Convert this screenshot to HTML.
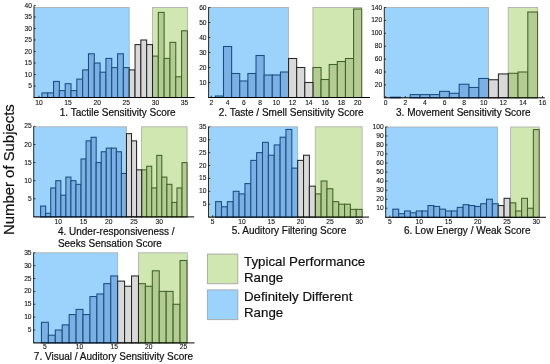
<!DOCTYPE html><html><head><meta charset="utf-8"><title>Figure</title><style>html,body{margin:0;padding:0;background:#fff}svg{display:block}text{stroke:#111;stroke-width:.2px}.tk text{stroke-width:.1px}</style></head><body><svg width="550" height="364" viewBox="0 0 550 364" font-family="'Liberation Sans', Arial, sans-serif">
<rect width="550" height="364" fill="#fff"/>
<g><rect x="34" y="7.4" width="95.21" height="90.1" fill="#9CD3FD" stroke="#ABABAB" stroke-width="0.8"/><rect x="152.49" y="7.4" width="34.92" height="90.1" fill="#D0E7B2" stroke="#ABABAB" stroke-width="0.8"/><path d="M39 97.5v-1.8M68.1 97.5v-1.8M97.2 97.5v-1.8M126.3 97.5v-1.8M155.4 97.5v-1.8M184.5 97.5v-1.8M34 86h1.8M34 74.5h1.8M34 63h1.8M34 51.5h1.8M34 40h1.8M34 28.5h1.8M34 17h1.8M34 5.5h1.8" stroke="#000" stroke-width="0.7" fill="none"/><rect x="41.91" y="92.9" width="5.82" height="4.6" fill="#7AB0E3" stroke="#1B4C80" stroke-width="1.05"/><rect x="47.73" y="92.9" width="5.82" height="4.6" fill="#7AB0E3" stroke="#1B4C80" stroke-width="1.05"/><rect x="53.55" y="81.4" width="5.82" height="16.1" fill="#7AB0E3" stroke="#1B4C80" stroke-width="1.05"/><rect x="59.37" y="90.6" width="5.82" height="6.9" fill="#7AB0E3" stroke="#1B4C80" stroke-width="1.05"/><rect x="65.19" y="83.7" width="5.82" height="13.8" fill="#7AB0E3" stroke="#1B4C80" stroke-width="1.05"/><rect x="71.01" y="90.6" width="5.82" height="6.9" fill="#7AB0E3" stroke="#1B4C80" stroke-width="1.05"/><rect x="76.83" y="79.1" width="5.82" height="18.4" fill="#7AB0E3" stroke="#1B4C80" stroke-width="1.05"/><rect x="82.65" y="69.9" width="5.82" height="27.6" fill="#7AB0E3" stroke="#1B4C80" stroke-width="1.05"/><rect x="88.47" y="53.8" width="5.82" height="43.7" fill="#7AB0E3" stroke="#1B4C80" stroke-width="1.05"/><rect x="94.29" y="63" width="5.82" height="34.5" fill="#7AB0E3" stroke="#1B4C80" stroke-width="1.05"/><rect x="100.11" y="72.2" width="5.82" height="25.3" fill="#7AB0E3" stroke="#1B4C80" stroke-width="1.05"/><rect x="105.93" y="58.4" width="5.82" height="39.1" fill="#7AB0E3" stroke="#1B4C80" stroke-width="1.05"/><rect x="111.75" y="67.6" width="5.82" height="29.9" fill="#7AB0E3" stroke="#1B4C80" stroke-width="1.05"/><rect x="117.57" y="53.8" width="5.82" height="43.7" fill="#7AB0E3" stroke="#1B4C80" stroke-width="1.05"/><rect x="123.39" y="67.6" width="5.82" height="29.9" fill="#7AB0E3" stroke="#1B4C80" stroke-width="1.05"/><rect x="152.49" y="56.1" width="5.82" height="41.4" fill="#B2CC94" stroke="#416226" stroke-width="1.05"/><rect x="158.31" y="12.4" width="5.82" height="85.1" fill="#B2CC94" stroke="#416226" stroke-width="1.05"/><rect x="164.13" y="58.4" width="5.82" height="39.1" fill="#B2CC94" stroke="#416226" stroke-width="1.05"/><rect x="169.95" y="42.3" width="5.82" height="55.2" fill="#B2CC94" stroke="#416226" stroke-width="1.05"/><rect x="175.77" y="76.8" width="5.82" height="20.7" fill="#B2CC94" stroke="#416226" stroke-width="1.05"/><rect x="181.59" y="30.8" width="5.82" height="66.7" fill="#B2CC94" stroke="#416226" stroke-width="1.05"/><rect x="129.21" y="69.9" width="5.82" height="27.6" fill="#D9D9D9" stroke="#262626" stroke-width="1.05"/><rect x="135.03" y="44.6" width="5.82" height="52.9" fill="#D9D9D9" stroke="#262626" stroke-width="1.05"/><rect x="140.85" y="40" width="5.82" height="57.5" fill="#D9D9D9" stroke="#262626" stroke-width="1.05"/><rect x="146.67" y="44.6" width="5.82" height="52.9" fill="#D9D9D9" stroke="#262626" stroke-width="1.05"/><path d="M34 5.5V97.5" fill="none" stroke="#000" stroke-width="0.75"/><path d="M33.65 97.5H194.7" fill="none" stroke="#000" stroke-width="1"/><g class="tk"><text x="39" y="104.7" font-size="6.7" text-anchor="middle" fill="#111">10</text><text x="68.1" y="104.7" font-size="6.7" text-anchor="middle" fill="#111">15</text><text x="97.2" y="104.7" font-size="6.7" text-anchor="middle" fill="#111">20</text><text x="126.3" y="104.7" font-size="6.7" text-anchor="middle" fill="#111">25</text><text x="155.4" y="104.7" font-size="6.7" text-anchor="middle" fill="#111">30</text><text x="184.5" y="104.7" font-size="6.7" text-anchor="middle" fill="#111">35</text><text x="32" y="88" font-size="6.7" text-anchor="end" fill="#111">5</text><text x="32" y="76.5" font-size="6.7" text-anchor="end" fill="#111">10</text><text x="32" y="65" font-size="6.7" text-anchor="end" fill="#111">15</text><text x="32" y="53.5" font-size="6.7" text-anchor="end" fill="#111">20</text><text x="32" y="42" font-size="6.7" text-anchor="end" fill="#111">25</text><text x="32" y="30.5" font-size="6.7" text-anchor="end" fill="#111">30</text><text x="32" y="19" font-size="6.7" text-anchor="end" fill="#111">35</text><text x="32" y="7.5" font-size="6.7" text-anchor="end" fill="#111">40</text></g><text x="117.7" y="115.8" font-size="10" text-anchor="middle" fill="#111">1. Tactile Sensitivity Score</text></g>
<g><rect x="208.6" y="7.4" width="79.94" height="90.1" fill="#9CD3FD" stroke="#ABABAB" stroke-width="0.8"/><rect x="312.93" y="7.4" width="48.78" height="90.1" fill="#D0E7B2" stroke="#ABABAB" stroke-width="0.8"/><path d="M211.3 97.5v-1.8M227.56 97.5v-1.8M243.82 97.5v-1.8M260.08 97.5v-1.8M276.34 97.5v-1.8M292.6 97.5v-1.8M308.86 97.5v-1.8M325.12 97.5v-1.8M341.38 97.5v-1.8M357.64 97.5v-1.8M208.6 82.5h1.8M208.6 67.5h1.8M208.6 52.5h1.8M208.6 37.5h1.8M208.6 22.5h1.8M208.6 7.5h1.8" stroke="#000" stroke-width="0.7" fill="none"/><rect x="215.37" y="96" width="8.13" height="1.5" fill="#7AB0E3" stroke="#1B4C80" stroke-width="1.05"/><rect x="223.5" y="46.5" width="8.13" height="51" fill="#7AB0E3" stroke="#1B4C80" stroke-width="1.05"/><rect x="231.62" y="73.5" width="8.13" height="24" fill="#7AB0E3" stroke="#1B4C80" stroke-width="1.05"/><rect x="239.76" y="81" width="8.13" height="16.5" fill="#7AB0E3" stroke="#1B4C80" stroke-width="1.05"/><rect x="247.89" y="73.5" width="8.13" height="24" fill="#7AB0E3" stroke="#1B4C80" stroke-width="1.05"/><rect x="256.01" y="55.5" width="8.13" height="42" fill="#7AB0E3" stroke="#1B4C80" stroke-width="1.05"/><rect x="264.15" y="75" width="8.13" height="22.5" fill="#7AB0E3" stroke="#1B4C80" stroke-width="1.05"/><rect x="272.28" y="75" width="8.13" height="22.5" fill="#7AB0E3" stroke="#1B4C80" stroke-width="1.05"/><rect x="280.41" y="72" width="8.13" height="25.5" fill="#7AB0E3" stroke="#1B4C80" stroke-width="1.05"/><rect x="312.93" y="67.5" width="8.13" height="30" fill="#B2CC94" stroke="#416226" stroke-width="1.05"/><rect x="321.06" y="79.5" width="8.13" height="18" fill="#B2CC94" stroke="#416226" stroke-width="1.05"/><rect x="329.19" y="64.5" width="8.13" height="33" fill="#B2CC94" stroke="#416226" stroke-width="1.05"/><rect x="337.32" y="61.5" width="8.13" height="36" fill="#B2CC94" stroke="#416226" stroke-width="1.05"/><rect x="345.45" y="58.5" width="8.13" height="39" fill="#B2CC94" stroke="#416226" stroke-width="1.05"/><rect x="353.58" y="9" width="8.13" height="88.5" fill="#B2CC94" stroke="#416226" stroke-width="1.05"/><rect x="288.54" y="58.5" width="8.13" height="39" fill="#D9D9D9" stroke="#262626" stroke-width="1.05"/><rect x="296.67" y="67.5" width="8.13" height="30" fill="#D9D9D9" stroke="#262626" stroke-width="1.05"/><rect x="304.8" y="82.5" width="8.13" height="15" fill="#D9D9D9" stroke="#262626" stroke-width="1.05"/><path d="M208.6 7.4V97.5" fill="none" stroke="#000" stroke-width="0.75"/><path d="M208.25 97.5H370" fill="none" stroke="#000" stroke-width="1"/><g class="tk"><text x="211.3" y="104.7" font-size="6.7" text-anchor="middle" fill="#111">2</text><text x="227.56" y="104.7" font-size="6.7" text-anchor="middle" fill="#111">4</text><text x="243.82" y="104.7" font-size="6.7" text-anchor="middle" fill="#111">6</text><text x="260.08" y="104.7" font-size="6.7" text-anchor="middle" fill="#111">8</text><text x="276.34" y="104.7" font-size="6.7" text-anchor="middle" fill="#111">10</text><text x="292.6" y="104.7" font-size="6.7" text-anchor="middle" fill="#111">12</text><text x="308.86" y="104.7" font-size="6.7" text-anchor="middle" fill="#111">14</text><text x="325.12" y="104.7" font-size="6.7" text-anchor="middle" fill="#111">16</text><text x="341.38" y="104.7" font-size="6.7" text-anchor="middle" fill="#111">18</text><text x="357.64" y="104.7" font-size="6.7" text-anchor="middle" fill="#111">20</text><text x="206.6" y="84.5" font-size="6.7" text-anchor="end" fill="#111">10</text><text x="206.6" y="69.5" font-size="6.7" text-anchor="end" fill="#111">20</text><text x="206.6" y="54.5" font-size="6.7" text-anchor="end" fill="#111">30</text><text x="206.6" y="39.5" font-size="6.7" text-anchor="end" fill="#111">40</text><text x="206.6" y="24.5" font-size="6.7" text-anchor="end" fill="#111">50</text><text x="206.6" y="9.5" font-size="6.7" text-anchor="end" fill="#111">60</text></g><text x="291.2" y="115.7" font-size="10" text-anchor="middle" fill="#111">2. Taste / Smell Sensitivity Score</text></g>
<g><rect x="384.3" y="7.4" width="104.3" height="90.4" fill="#9CD3FD" stroke="#ABABAB" stroke-width="0.8"/><rect x="508.2" y="7.4" width="29.4" height="90.4" fill="#D0E7B2" stroke="#ABABAB" stroke-width="0.8"/><path d="M385.7 97.8v-1.8M405.3 97.8v-1.8M424.9 97.8v-1.8M444.5 97.8v-1.8M464.1 97.8v-1.8M483.7 97.8v-1.8M503.3 97.8v-1.8M522.9 97.8v-1.8M542.5 97.8v-1.8M384.3 84.9h1.8M384.3 72h1.8M384.3 59.1h1.8M384.3 46.2h1.8M384.3 33.3h1.8M384.3 20.4h1.8M384.3 7.5h1.8" stroke="#000" stroke-width="0.7" fill="none"/><rect x="390.6" y="97.16" width="9.8" height="0.64" fill="#7AB0E3" stroke="#1B4C80" stroke-width="1.05"/><rect x="410.2" y="94.58" width="9.8" height="3.22" fill="#7AB0E3" stroke="#1B4C80" stroke-width="1.05"/><rect x="420" y="94.58" width="9.8" height="3.22" fill="#7AB0E3" stroke="#1B4C80" stroke-width="1.05"/><rect x="429.8" y="94.58" width="9.8" height="3.22" fill="#7AB0E3" stroke="#1B4C80" stroke-width="1.05"/><rect x="439.6" y="91.35" width="9.8" height="6.45" fill="#7AB0E3" stroke="#1B4C80" stroke-width="1.05"/><rect x="449.4" y="93.28" width="9.8" height="4.52" fill="#7AB0E3" stroke="#1B4C80" stroke-width="1.05"/><rect x="459.2" y="84.25" width="9.8" height="13.55" fill="#7AB0E3" stroke="#1B4C80" stroke-width="1.05"/><rect x="469" y="87.48" width="9.8" height="10.32" fill="#7AB0E3" stroke="#1B4C80" stroke-width="1.05"/><rect x="478.8" y="78.45" width="9.8" height="19.35" fill="#7AB0E3" stroke="#1B4C80" stroke-width="1.05"/><rect x="508.2" y="73.29" width="9.8" height="24.51" fill="#B2CC94" stroke="#416226" stroke-width="1.05"/><rect x="518" y="72" width="9.8" height="25.8" fill="#B2CC94" stroke="#416226" stroke-width="1.05"/><rect x="527.8" y="12.02" width="9.8" height="85.78" fill="#B2CC94" stroke="#416226" stroke-width="1.05"/><rect x="488.6" y="79.74" width="9.8" height="18.06" fill="#D9D9D9" stroke="#262626" stroke-width="1.05"/><rect x="498.4" y="73.94" width="9.8" height="23.86" fill="#D9D9D9" stroke="#262626" stroke-width="1.05"/><path d="M384.3 7.4V97.8" fill="none" stroke="#000" stroke-width="0.75"/><path d="M383.95 97.8H544.8" fill="none" stroke="#000" stroke-width="1"/><g class="tk"><text x="385.7" y="105" font-size="6.7" text-anchor="middle" fill="#111">0</text><text x="405.3" y="105" font-size="6.7" text-anchor="middle" fill="#111">2</text><text x="424.9" y="105" font-size="6.7" text-anchor="middle" fill="#111">4</text><text x="444.5" y="105" font-size="6.7" text-anchor="middle" fill="#111">6</text><text x="464.1" y="105" font-size="6.7" text-anchor="middle" fill="#111">8</text><text x="483.7" y="105" font-size="6.7" text-anchor="middle" fill="#111">10</text><text x="503.3" y="105" font-size="6.7" text-anchor="middle" fill="#111">12</text><text x="522.9" y="105" font-size="6.7" text-anchor="middle" fill="#111">14</text><text x="542.5" y="105" font-size="6.7" text-anchor="middle" fill="#111">16</text><text x="382.3" y="86.9" font-size="6.7" text-anchor="end" fill="#111">20</text><text x="382.3" y="74" font-size="6.7" text-anchor="end" fill="#111">40</text><text x="382.3" y="61.1" font-size="6.7" text-anchor="end" fill="#111">60</text><text x="382.3" y="48.2" font-size="6.7" text-anchor="end" fill="#111">80</text><text x="382.3" y="35.3" font-size="6.7" text-anchor="end" fill="#111">100</text><text x="382.3" y="22.4" font-size="6.7" text-anchor="end" fill="#111">120</text><text x="382.3" y="9.5" font-size="6.7" text-anchor="end" fill="#111">140</text></g><text x="463.3" y="115.6" font-size="10" text-anchor="middle" fill="#111">3. Movement Sensitivity Score</text></g>
<g><rect x="33.7" y="126.8" width="92.77" height="90.1" fill="#9CD3FD" stroke="#ABABAB" stroke-width="0.8"/><rect x="141.62" y="126.8" width="45.45" height="90.1" fill="#D0E7B2" stroke="#ABABAB" stroke-width="0.8"/><path d="M58.3 216.9v-1.8M83.55 216.9v-1.8M108.8 216.9v-1.8M134.05 216.9v-1.8M159.3 216.9v-1.8M33.7 198.8h1.8M33.7 180.7h1.8M33.7 162.6h1.8M33.7 144.5h1.8M33.7 126.4h1.8" stroke="#000" stroke-width="0.7" fill="none"/><rect x="40.62" y="206.04" width="5.05" height="10.86" fill="#7AB0E3" stroke="#1B4C80" stroke-width="1.05"/><rect x="45.67" y="213.28" width="5.05" height="3.62" fill="#7AB0E3" stroke="#1B4C80" stroke-width="1.05"/><rect x="50.72" y="187.94" width="5.05" height="28.96" fill="#7AB0E3" stroke="#1B4C80" stroke-width="1.05"/><rect x="55.77" y="180.7" width="5.05" height="36.2" fill="#7AB0E3" stroke="#1B4C80" stroke-width="1.05"/><rect x="60.82" y="195.18" width="5.05" height="21.72" fill="#7AB0E3" stroke="#1B4C80" stroke-width="1.05"/><rect x="65.88" y="177.08" width="5.05" height="39.82" fill="#7AB0E3" stroke="#1B4C80" stroke-width="1.05"/><rect x="70.92" y="180.7" width="5.05" height="36.2" fill="#7AB0E3" stroke="#1B4C80" stroke-width="1.05"/><rect x="75.97" y="184.32" width="5.05" height="32.58" fill="#7AB0E3" stroke="#1B4C80" stroke-width="1.05"/><rect x="81.02" y="158.98" width="5.05" height="57.92" fill="#7AB0E3" stroke="#1B4C80" stroke-width="1.05"/><rect x="86.07" y="140.88" width="5.05" height="76.02" fill="#7AB0E3" stroke="#1B4C80" stroke-width="1.05"/><rect x="91.12" y="137.26" width="5.05" height="79.64" fill="#7AB0E3" stroke="#1B4C80" stroke-width="1.05"/><rect x="96.17" y="162.6" width="5.05" height="54.3" fill="#7AB0E3" stroke="#1B4C80" stroke-width="1.05"/><rect x="101.22" y="151.74" width="5.05" height="65.16" fill="#7AB0E3" stroke="#1B4C80" stroke-width="1.05"/><rect x="106.28" y="148.12" width="5.05" height="68.78" fill="#7AB0E3" stroke="#1B4C80" stroke-width="1.05"/><rect x="111.32" y="148.12" width="5.05" height="68.78" fill="#7AB0E3" stroke="#1B4C80" stroke-width="1.05"/><rect x="116.38" y="151.74" width="5.05" height="65.16" fill="#7AB0E3" stroke="#1B4C80" stroke-width="1.05"/><rect x="121.42" y="173.46" width="5.05" height="43.44" fill="#7AB0E3" stroke="#1B4C80" stroke-width="1.05"/><rect x="141.62" y="169.84" width="5.05" height="47.06" fill="#B2CC94" stroke="#416226" stroke-width="1.05"/><rect x="146.68" y="166.22" width="5.05" height="50.68" fill="#B2CC94" stroke="#416226" stroke-width="1.05"/><rect x="151.72" y="187.94" width="5.05" height="28.96" fill="#B2CC94" stroke="#416226" stroke-width="1.05"/><rect x="156.77" y="155.36" width="5.05" height="61.54" fill="#B2CC94" stroke="#416226" stroke-width="1.05"/><rect x="161.82" y="177.08" width="5.05" height="39.82" fill="#B2CC94" stroke="#416226" stroke-width="1.05"/><rect x="166.88" y="184.32" width="5.05" height="32.58" fill="#B2CC94" stroke="#416226" stroke-width="1.05"/><rect x="171.93" y="202.42" width="5.05" height="14.48" fill="#B2CC94" stroke="#416226" stroke-width="1.05"/><rect x="176.97" y="187.94" width="5.05" height="28.96" fill="#B2CC94" stroke="#416226" stroke-width="1.05"/><rect x="182.02" y="162.6" width="5.05" height="54.3" fill="#B2CC94" stroke="#416226" stroke-width="1.05"/><rect x="126.47" y="133.64" width="5.05" height="83.26" fill="#D9D9D9" stroke="#262626" stroke-width="1.05"/><rect x="131.52" y="140.88" width="5.05" height="76.02" fill="#D9D9D9" stroke="#262626" stroke-width="1.05"/><rect x="136.57" y="169.84" width="5.05" height="47.06" fill="#D9D9D9" stroke="#262626" stroke-width="1.05"/><path d="M33.7 126.5V216.9" fill="none" stroke="#000" stroke-width="0.75"/><path d="M33.35 216.9H194.2" fill="none" stroke="#000" stroke-width="1"/><g class="tk"><text x="58.3" y="224.1" font-size="6.7" text-anchor="middle" fill="#111">10</text><text x="83.55" y="224.1" font-size="6.7" text-anchor="middle" fill="#111">15</text><text x="108.8" y="224.1" font-size="6.7" text-anchor="middle" fill="#111">20</text><text x="134.05" y="224.1" font-size="6.7" text-anchor="middle" fill="#111">25</text><text x="159.3" y="224.1" font-size="6.7" text-anchor="middle" fill="#111">30</text><text x="31.7" y="200.8" font-size="6.7" text-anchor="end" fill="#111">5</text><text x="31.7" y="182.7" font-size="6.7" text-anchor="end" fill="#111">10</text><text x="31.7" y="164.6" font-size="6.7" text-anchor="end" fill="#111">15</text><text x="31.7" y="146.5" font-size="6.7" text-anchor="end" fill="#111">20</text><text x="31.7" y="128.4" font-size="6.7" text-anchor="end" fill="#111">25</text></g><text x="57.9" y="235.1" font-size="10" fill="#111">4. Under-responsiveness /</text><text x="57.9" y="246.7" font-size="10" fill="#111">Seeks Sensation Score</text></g>
<g><rect x="208.5" y="126.8" width="89.17" height="90.3" fill="#9CD3FD" stroke="#ABABAB" stroke-width="0.8"/><rect x="315.25" y="126.8" width="46.88" height="90.3" fill="#D0E7B2" stroke="#ABABAB" stroke-width="0.8"/><path d="M212.7 217.1v-1.8M242 217.1v-1.8M271.3 217.1v-1.8M300.6 217.1v-1.8M329.9 217.1v-1.8M359.2 217.1v-1.8M208.5 204.21h1.8M208.5 191.32h1.8M208.5 178.43h1.8M208.5 165.54h1.8M208.5 152.65h1.8M208.5 139.76h1.8M208.5 126.87h1.8" stroke="#000" stroke-width="0.7" fill="none"/><rect x="215.63" y="201.63" width="5.86" height="15.47" fill="#7AB0E3" stroke="#1B4C80" stroke-width="1.05"/><rect x="221.49" y="206.79" width="5.86" height="10.31" fill="#7AB0E3" stroke="#1B4C80" stroke-width="1.05"/><rect x="227.35" y="201.63" width="5.86" height="15.47" fill="#7AB0E3" stroke="#1B4C80" stroke-width="1.05"/><rect x="233.21" y="191.32" width="5.86" height="25.78" fill="#7AB0E3" stroke="#1B4C80" stroke-width="1.05"/><rect x="239.07" y="193.9" width="5.86" height="23.2" fill="#7AB0E3" stroke="#1B4C80" stroke-width="1.05"/><rect x="244.93" y="183.59" width="5.86" height="33.51" fill="#7AB0E3" stroke="#1B4C80" stroke-width="1.05"/><rect x="250.79" y="160.38" width="5.86" height="56.72" fill="#7AB0E3" stroke="#1B4C80" stroke-width="1.05"/><rect x="256.65" y="152.65" width="5.86" height="64.45" fill="#7AB0E3" stroke="#1B4C80" stroke-width="1.05"/><rect x="262.51" y="142.34" width="5.86" height="74.76" fill="#7AB0E3" stroke="#1B4C80" stroke-width="1.05"/><rect x="268.37" y="155.23" width="5.86" height="61.87" fill="#7AB0E3" stroke="#1B4C80" stroke-width="1.05"/><rect x="274.23" y="144.92" width="5.86" height="72.18" fill="#7AB0E3" stroke="#1B4C80" stroke-width="1.05"/><rect x="280.09" y="137.18" width="5.86" height="79.92" fill="#7AB0E3" stroke="#1B4C80" stroke-width="1.05"/><rect x="285.95" y="129.45" width="5.86" height="87.65" fill="#7AB0E3" stroke="#1B4C80" stroke-width="1.05"/><rect x="291.81" y="168.12" width="5.86" height="48.98" fill="#7AB0E3" stroke="#1B4C80" stroke-width="1.05"/><rect x="315.25" y="193.9" width="5.86" height="23.2" fill="#B2CC94" stroke="#416226" stroke-width="1.05"/><rect x="321.11" y="181.01" width="5.86" height="36.09" fill="#B2CC94" stroke="#416226" stroke-width="1.05"/><rect x="326.97" y="188.74" width="5.86" height="28.36" fill="#B2CC94" stroke="#416226" stroke-width="1.05"/><rect x="332.83" y="201.63" width="5.86" height="15.47" fill="#B2CC94" stroke="#416226" stroke-width="1.05"/><rect x="338.69" y="204.21" width="5.86" height="12.89" fill="#B2CC94" stroke="#416226" stroke-width="1.05"/><rect x="344.55" y="204.21" width="5.86" height="12.89" fill="#B2CC94" stroke="#416226" stroke-width="1.05"/><rect x="350.41" y="209.37" width="5.86" height="7.73" fill="#B2CC94" stroke="#416226" stroke-width="1.05"/><rect x="356.27" y="209.37" width="5.86" height="7.73" fill="#B2CC94" stroke="#416226" stroke-width="1.05"/><rect x="297.67" y="160.38" width="5.86" height="56.72" fill="#D9D9D9" stroke="#262626" stroke-width="1.05"/><rect x="303.53" y="155.23" width="5.86" height="61.87" fill="#D9D9D9" stroke="#262626" stroke-width="1.05"/><rect x="309.39" y="186.16" width="5.86" height="30.94" fill="#D9D9D9" stroke="#262626" stroke-width="1.05"/><path d="M208.5 126.9V217.1" fill="none" stroke="#000" stroke-width="0.75"/><path d="M208.15 217.1H369" fill="none" stroke="#000" stroke-width="1"/><g class="tk"><text x="212.7" y="224" font-size="6.7" text-anchor="middle" fill="#111">5</text><text x="242" y="224" font-size="6.7" text-anchor="middle" fill="#111">10</text><text x="271.3" y="224" font-size="6.7" text-anchor="middle" fill="#111">15</text><text x="300.6" y="224" font-size="6.7" text-anchor="middle" fill="#111">20</text><text x="329.9" y="224" font-size="6.7" text-anchor="middle" fill="#111">25</text><text x="359.2" y="224" font-size="6.7" text-anchor="middle" fill="#111">30</text><text x="206.5" y="206.21" font-size="6.7" text-anchor="end" fill="#111">5</text><text x="206.5" y="193.32" font-size="6.7" text-anchor="end" fill="#111">10</text><text x="206.5" y="180.43" font-size="6.7" text-anchor="end" fill="#111">15</text><text x="206.5" y="167.54" font-size="6.7" text-anchor="end" fill="#111">20</text><text x="206.5" y="154.65" font-size="6.7" text-anchor="end" fill="#111">25</text><text x="206.5" y="141.76" font-size="6.7" text-anchor="end" fill="#111">30</text><text x="206.5" y="128.87" font-size="6.7" text-anchor="end" fill="#111">35</text></g><text x="289" y="234.3" font-size="10" text-anchor="middle" fill="#111">5. Auditory Filtering Score</text></g>
<g><rect x="385.7" y="127" width="111.81" height="90.3" fill="#9CD3FD" stroke="#ABABAB" stroke-width="0.8"/><rect x="510.63" y="127" width="28.57" height="90.3" fill="#D0E7B2" stroke="#ABABAB" stroke-width="0.8"/><path d="M389.9 217.3v-1.8M419.17 217.3v-1.8M448.45 217.3v-1.8M477.72 217.3v-1.8M507 217.3v-1.8M536.27 217.3v-1.8M385.7 208.26h1.8M385.7 199.22h1.8M385.7 190.18h1.8M385.7 181.14h1.8M385.7 172.1h1.8M385.7 163.06h1.8M385.7 154.02h1.8M385.7 144.98h1.8M385.7 135.94h1.8M385.7 126.9h1.8" stroke="#000" stroke-width="0.7" fill="none"/><rect x="392.83" y="209.16" width="5.86" height="8.14" fill="#7AB0E3" stroke="#1B4C80" stroke-width="1.05"/><rect x="398.68" y="213.68" width="5.85" height="3.62" fill="#7AB0E3" stroke="#1B4C80" stroke-width="1.05"/><rect x="404.54" y="210.97" width="5.86" height="6.33" fill="#7AB0E3" stroke="#1B4C80" stroke-width="1.05"/><rect x="410.39" y="212.78" width="5.86" height="4.52" fill="#7AB0E3" stroke="#1B4C80" stroke-width="1.05"/><rect x="416.25" y="210.97" width="5.85" height="6.33" fill="#7AB0E3" stroke="#1B4C80" stroke-width="1.05"/><rect x="422.1" y="210.97" width="5.86" height="6.33" fill="#7AB0E3" stroke="#1B4C80" stroke-width="1.05"/><rect x="427.96" y="205.55" width="5.86" height="11.75" fill="#7AB0E3" stroke="#1B4C80" stroke-width="1.05"/><rect x="433.81" y="206.45" width="5.85" height="10.85" fill="#7AB0E3" stroke="#1B4C80" stroke-width="1.05"/><rect x="439.67" y="209.16" width="5.86" height="8.14" fill="#7AB0E3" stroke="#1B4C80" stroke-width="1.05"/><rect x="445.52" y="210.97" width="5.86" height="6.33" fill="#7AB0E3" stroke="#1B4C80" stroke-width="1.05"/><rect x="451.38" y="210.97" width="5.85" height="6.33" fill="#7AB0E3" stroke="#1B4C80" stroke-width="1.05"/><rect x="457.23" y="207.36" width="5.86" height="9.94" fill="#7AB0E3" stroke="#1B4C80" stroke-width="1.05"/><rect x="463.09" y="204.64" width="5.86" height="12.66" fill="#7AB0E3" stroke="#1B4C80" stroke-width="1.05"/><rect x="468.94" y="205.55" width="5.86" height="11.75" fill="#7AB0E3" stroke="#1B4C80" stroke-width="1.05"/><rect x="474.8" y="206.45" width="5.85" height="10.85" fill="#7AB0E3" stroke="#1B4C80" stroke-width="1.05"/><rect x="480.65" y="203.74" width="5.86" height="13.56" fill="#7AB0E3" stroke="#1B4C80" stroke-width="1.05"/><rect x="486.51" y="199.22" width="5.85" height="18.08" fill="#7AB0E3" stroke="#1B4C80" stroke-width="1.05"/><rect x="492.36" y="203.74" width="5.86" height="13.56" fill="#7AB0E3" stroke="#1B4C80" stroke-width="1.05"/><rect x="509.93" y="202.84" width="5.86" height="14.46" fill="#B2CC94" stroke="#416226" stroke-width="1.05"/><rect x="515.78" y="210.97" width="5.86" height="6.33" fill="#B2CC94" stroke="#416226" stroke-width="1.05"/><rect x="521.64" y="198.32" width="5.85" height="18.98" fill="#B2CC94" stroke="#416226" stroke-width="1.05"/><rect x="527.49" y="208.26" width="5.86" height="9.04" fill="#B2CC94" stroke="#416226" stroke-width="1.05"/><rect x="533.35" y="129.61" width="5.86" height="87.69" fill="#B2CC94" stroke="#416226" stroke-width="1.05"/><rect x="498.22" y="205.55" width="5.86" height="11.75" fill="#D9D9D9" stroke="#262626" stroke-width="1.05"/><rect x="504.07" y="198.32" width="5.86" height="18.98" fill="#D9D9D9" stroke="#262626" stroke-width="1.05"/><path d="M385.7 127V217.3" fill="none" stroke="#000" stroke-width="0.75"/><path d="M385.35 217.3H546" fill="none" stroke="#000" stroke-width="1"/><g class="tk"><text x="389.9" y="224.1" font-size="6.7" text-anchor="middle" fill="#111">5</text><text x="419.17" y="224.1" font-size="6.7" text-anchor="middle" fill="#111">10</text><text x="448.45" y="224.1" font-size="6.7" text-anchor="middle" fill="#111">15</text><text x="477.72" y="224.1" font-size="6.7" text-anchor="middle" fill="#111">20</text><text x="507" y="224.1" font-size="6.7" text-anchor="middle" fill="#111">25</text><text x="536.27" y="224.1" font-size="6.7" text-anchor="middle" fill="#111">30</text><text x="383.7" y="210.26" font-size="6.7" text-anchor="end" fill="#111">10</text><text x="383.7" y="201.22" font-size="6.7" text-anchor="end" fill="#111">20</text><text x="383.7" y="192.18" font-size="6.7" text-anchor="end" fill="#111">30</text><text x="383.7" y="183.14" font-size="6.7" text-anchor="end" fill="#111">40</text><text x="383.7" y="174.1" font-size="6.7" text-anchor="end" fill="#111">50</text><text x="383.7" y="165.06" font-size="6.7" text-anchor="end" fill="#111">60</text><text x="383.7" y="156.02" font-size="6.7" text-anchor="end" fill="#111">70</text><text x="383.7" y="146.98" font-size="6.7" text-anchor="end" fill="#111">80</text><text x="383.7" y="137.94" font-size="6.7" text-anchor="end" fill="#111">90</text><text x="383.7" y="128.9" font-size="6.7" text-anchor="end" fill="#111">100</text></g><text x="467.2" y="234.3" font-size="10" text-anchor="middle" fill="#111">6. Low Energy / Weak Score</text></g>
<g><rect x="33.6" y="252.8" width="84.06" height="90.1" fill="#9CD3FD" stroke="#ABABAB" stroke-width="0.8"/><rect x="138.45" y="252.8" width="48.86" height="90.1" fill="#D0E7B2" stroke="#ABABAB" stroke-width="0.8"/><path d="M44.9 342.9v-1.8M79.55 342.9v-1.8M114.2 342.9v-1.8M148.85 342.9v-1.8M183.5 342.9v-1.8M33.6 330.02h1.8M33.6 317.15h1.8M33.6 304.27h1.8M33.6 291.4h1.8M33.6 278.52h1.8M33.6 265.65h1.8M33.6 252.77h1.8" stroke="#000" stroke-width="0.7" fill="none"/><rect x="41.44" y="322.3" width="6.93" height="20.6" fill="#7AB0E3" stroke="#1B4C80" stroke-width="1.05"/><rect x="48.36" y="335.17" width="6.93" height="7.73" fill="#7AB0E3" stroke="#1B4C80" stroke-width="1.05"/><rect x="55.3" y="330.02" width="6.93" height="12.88" fill="#7AB0E3" stroke="#1B4C80" stroke-width="1.05"/><rect x="62.22" y="324.88" width="6.93" height="18.02" fill="#7AB0E3" stroke="#1B4C80" stroke-width="1.05"/><rect x="69.16" y="314.57" width="6.93" height="28.32" fill="#7AB0E3" stroke="#1B4C80" stroke-width="1.05"/><rect x="76.08" y="309.42" width="6.93" height="33.48" fill="#7AB0E3" stroke="#1B4C80" stroke-width="1.05"/><rect x="83.01" y="314.57" width="6.93" height="28.32" fill="#7AB0E3" stroke="#1B4C80" stroke-width="1.05"/><rect x="89.94" y="296.55" width="6.93" height="46.35" fill="#7AB0E3" stroke="#1B4C80" stroke-width="1.05"/><rect x="96.88" y="293.97" width="6.93" height="48.93" fill="#7AB0E3" stroke="#1B4C80" stroke-width="1.05"/><rect x="103.81" y="283.67" width="6.93" height="59.23" fill="#7AB0E3" stroke="#1B4C80" stroke-width="1.05"/><rect x="110.73" y="275.95" width="6.93" height="66.95" fill="#7AB0E3" stroke="#1B4C80" stroke-width="1.05"/><rect x="138.45" y="283.67" width="6.93" height="59.23" fill="#B2CC94" stroke="#416226" stroke-width="1.05"/><rect x="145.38" y="286.25" width="6.93" height="56.65" fill="#B2CC94" stroke="#416226" stroke-width="1.05"/><rect x="152.31" y="270.8" width="6.93" height="72.1" fill="#B2CC94" stroke="#416226" stroke-width="1.05"/><rect x="159.25" y="291.4" width="6.93" height="51.5" fill="#B2CC94" stroke="#416226" stroke-width="1.05"/><rect x="166.17" y="291.4" width="6.93" height="51.5" fill="#B2CC94" stroke="#416226" stroke-width="1.05"/><rect x="173.1" y="304.27" width="6.93" height="38.62" fill="#B2CC94" stroke="#416226" stroke-width="1.05"/><rect x="180.03" y="260.5" width="6.93" height="82.4" fill="#B2CC94" stroke="#416226" stroke-width="1.05"/><rect x="117.66" y="281.1" width="6.93" height="61.8" fill="#D9D9D9" stroke="#262626" stroke-width="1.05"/><rect x="124.59" y="286.25" width="6.93" height="56.65" fill="#D9D9D9" stroke="#262626" stroke-width="1.05"/><rect x="131.53" y="275.95" width="6.93" height="66.95" fill="#D9D9D9" stroke="#262626" stroke-width="1.05"/><path d="M33.6 252.8V342.9" fill="none" stroke="#000" stroke-width="0.75"/><path d="M33.25 342.9H194.5" fill="none" stroke="#000" stroke-width="1"/><g class="tk"><text x="44.9" y="349.4" font-size="6.7" text-anchor="middle" fill="#111">5</text><text x="79.55" y="349.4" font-size="6.7" text-anchor="middle" fill="#111">10</text><text x="114.2" y="349.4" font-size="6.7" text-anchor="middle" fill="#111">15</text><text x="148.85" y="349.4" font-size="6.7" text-anchor="middle" fill="#111">20</text><text x="183.5" y="349.4" font-size="6.7" text-anchor="middle" fill="#111">25</text><text x="31.6" y="332.02" font-size="6.7" text-anchor="end" fill="#111">5</text><text x="31.6" y="319.15" font-size="6.7" text-anchor="end" fill="#111">10</text><text x="31.6" y="306.27" font-size="6.7" text-anchor="end" fill="#111">15</text><text x="31.6" y="293.4" font-size="6.7" text-anchor="end" fill="#111">20</text><text x="31.6" y="280.52" font-size="6.7" text-anchor="end" fill="#111">25</text><text x="31.6" y="267.65" font-size="6.7" text-anchor="end" fill="#111">30</text><text x="31.6" y="254.77" font-size="6.7" text-anchor="end" fill="#111">35</text></g><text x="113.5" y="359.8" font-size="10" text-anchor="middle" fill="#111">7. Visual / Auditory Sensitivity Score</text></g>
<rect x="207.4" y="254.1" width="30.4" height="29.6" fill="#D0E7B2" stroke="#ABABAB" stroke-width="1"/>
<rect x="207.4" y="289.9" width="30.4" height="29.7" fill="#9CD3FD" stroke="#ABABAB" stroke-width="1"/>
<text x="244" y="266" font-size="13.3" fill="#111">Typical Performance</text>
<text x="244" y="281.8" font-size="13.3" fill="#111">Range</text>
<text x="244" y="300.6" font-size="13.3" fill="#111">Definitely Different</text>
<text x="244" y="317" font-size="13.3" fill="#111">Range</text>
<text transform="translate(14 235) rotate(-90)" font-size="14.9" fill="#111">Number of Subjects</text>
</svg></body></html>
